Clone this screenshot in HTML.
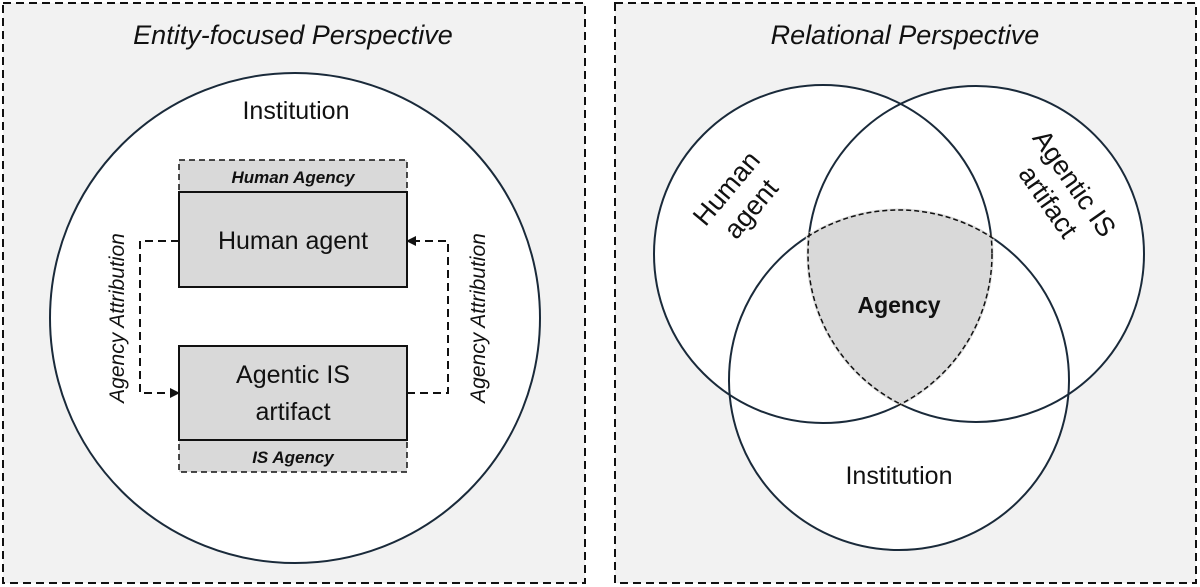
<!DOCTYPE html>
<html><head><style>body{margin:0;background:#fff}svg{display:block}</style></head><body>
<svg width="1200" height="587" viewBox="0 0 1200 587" xmlns="http://www.w3.org/2000/svg" font-family="Liberation Sans, sans-serif">
<defs>
<marker id="ar" markerWidth="10" markerHeight="10" refX="9" refY="5" orient="auto" markerUnits="userSpaceOnUse"><path d="M0,0 L10,5 L0,10 z" fill="#111"/></marker>
<clipPath id="c1"><circle cx="823" cy="254" r="169"/></clipPath>
<clipPath id="c2"><circle cx="976" cy="254" r="168"/></clipPath>
<clipPath id="e1"><circle cx="823" cy="254" r="172"/></clipPath>
<clipPath id="e2"><circle cx="976" cy="254" r="171"/></clipPath>
<clipPath id="e3"><circle cx="899" cy="380" r="173"/></clipPath>
</defs>
<rect x="3" y="3" width="582" height="580" fill="#f2f2f2" stroke="#111" stroke-width="2" stroke-dasharray="8,5"/>
<rect x="615" y="3" width="581" height="580" fill="#f2f2f2" stroke="#111" stroke-width="2" stroke-dasharray="8,5"/>
<text x="293" y="44" font-size="27" font-style="italic" text-anchor="middle" fill="#111">Entity-focused Perspective</text>
<text x="905" y="44" font-size="27" font-style="italic" text-anchor="middle" fill="#111">Relational Perspective</text>
<circle cx="295" cy="318" r="245" fill="#fff" stroke="#1a2a3a" stroke-width="2"/>
<text x="296" y="119" font-size="25" text-anchor="middle" fill="#111">Institution</text>
<rect x="179" y="160" width="228" height="32" fill="#d9d9d9" stroke="#111" stroke-width="1.5" stroke-dasharray="6,4"/>
<text x="293" y="183" font-size="17" font-weight="bold" font-style="italic" text-anchor="middle" fill="#111">Human Agency</text>
<rect x="179" y="192" width="228" height="95" fill="#d9d9d9" stroke="#111" stroke-width="2"/>
<text x="293" y="249" font-size="25" text-anchor="middle" fill="#111">Human agent</text>
<rect x="179" y="440" width="228" height="32" fill="#d9d9d9" stroke="#111" stroke-width="1.5" stroke-dasharray="6,4"/>
<text x="293" y="463" font-size="17" font-weight="bold" font-style="italic" text-anchor="middle" fill="#111">IS Agency</text>
<rect x="179" y="346" width="228" height="94" fill="#d9d9d9" stroke="#111" stroke-width="2"/>
<text x="293" y="383" font-size="25" text-anchor="middle" fill="#111">Agentic IS</text>
<text x="293" y="420" font-size="25" text-anchor="middle" fill="#111">artifact</text>
<path d="M179,241 H140 V393 H179" fill="none" stroke="#111" stroke-width="2" stroke-dasharray="8,5" marker-end="url(#ar)"/>
<path d="M407,393 H448 V241 H407" fill="none" stroke="#111" stroke-width="2" stroke-dasharray="8,5" marker-end="url(#ar)"/>
<text transform="translate(124,318) rotate(-90)" font-size="21" font-style="italic" text-anchor="middle" fill="#111">Agency Attribution</text>
<text transform="translate(485,318) rotate(-90)" font-size="21" font-style="italic" text-anchor="middle" fill="#111">Agency Attribution</text>
<circle cx="823" cy="254" r="169" fill="#fff"/>
<circle cx="976" cy="254" r="168" fill="#fff"/>
<circle cx="899" cy="380" r="170" fill="#fff"/>
<g clip-path="url(#c1)"><g clip-path="url(#c2)"><circle cx="899" cy="380" r="170" fill="#d9d9d9"/></g></g>
<circle cx="823" cy="254" r="169" fill="none" stroke="#1a2a3a" stroke-width="2"/>
<circle cx="976" cy="254" r="168" fill="none" stroke="#1a2a3a" stroke-width="2"/>
<circle cx="899" cy="380" r="170" fill="none" stroke="#1a2a3a" stroke-width="2"/>
<g clip-path="url(#e1)"><g clip-path="url(#e2)"><g clip-path="url(#e3)">
<circle cx="823" cy="254" r="169" fill="none" stroke="#d9d9d9" stroke-width="3"/>
<circle cx="976" cy="254" r="168" fill="none" stroke="#d9d9d9" stroke-width="3"/>
<circle cx="899" cy="380" r="170" fill="none" stroke="#d9d9d9" stroke-width="3"/>
<circle cx="823" cy="254" r="169" fill="none" stroke="#111" stroke-width="1.5" stroke-dasharray="5,3"/>
<circle cx="976" cy="254" r="168" fill="none" stroke="#111" stroke-width="1.5" stroke-dasharray="5,3"/>
<circle cx="899" cy="380" r="170" fill="none" stroke="#111" stroke-width="1.5" stroke-dasharray="5,3"/>
</g></g></g>
<text x="899" y="313" font-size="23" font-weight="bold" text-anchor="middle" fill="#111">Agency</text>
<text x="899" y="484" font-size="25" text-anchor="middle" fill="#111">Institution</text>
<text transform="translate(738,198) rotate(-50)" font-size="27" text-anchor="middle" fill="#111"><tspan x="0" y="-6">Human</tspan><tspan x="0" y="26">agent</tspan></text>
<text transform="translate(1062,192) rotate(55)" font-size="27" text-anchor="middle" fill="#111"><tspan x="0" y="-6">Agentic IS</tspan><tspan x="0" y="26">artifact</tspan></text>
</svg>
</body></html>
